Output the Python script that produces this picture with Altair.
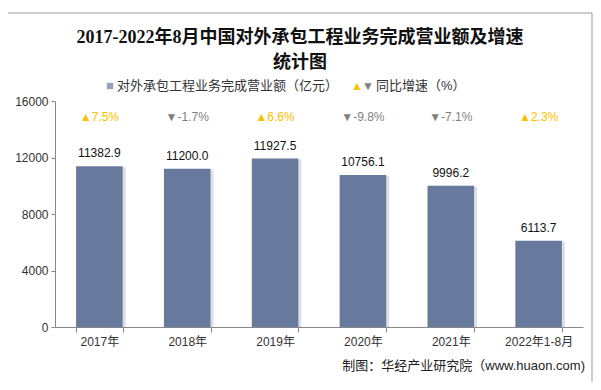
import altair as alt
import pandas as pd

years = ["2017年", "2018年", "2019年", "2020年", "2021年", "2022年1-8月"]
revenue = [11382.9, 11200.0, 11927.5, 10756.1, 9996.2, 6113.7]
growth = [7.5, -1.7, 6.6, -9.8, -7.1, 2.3]
y_ticks = [0, 4000, 8000, 12000, 16000]

UP = "#FFC000"
DOWN = "#7F7F7F"
BAR = "#677A9E"
FONT = "Liberation Sans, Noto Sans CJK SC"

df = pd.DataFrame({
    "year": years,
    "revenue": revenue,
    "vlabel": [f"{v:.1f}" for v in revenue],
    "glabel": [("▲" if g > 0 else "▼") + f"{g:.1f}%" for g in growth],
    "gcolor": [UP if g > 0 else DOWN for g in growth],
})

W, H = 528, 226
one = pd.DataFrame({"a": [0]})

xenc = alt.X("year:N", sort=years, title=None,
             scale=alt.Scale(paddingInner=0.47, paddingOuter=0.24),
             axis=alt.Axis(labelAngle=0, labelFont=FONT, labelFontSize=12,
                           labelColor="#333333", domainColor="#888888",
                           tickColor="#888888", tickBand="extent", tickSize=5,
                           labelPadding=4, zindex=1))
yenc = alt.Y("revenue:Q", title=None,
             scale=alt.Scale(domain=[0, 16000], nice=False),
             axis=alt.Axis(values=y_ticks, format="d", grid=False, labelFont=FONT,
                           labelFontSize=12, labelColor="#333333",
                           domainColor="#888888", tickColor="#888888",
                           tickSize=4, labelPadding=3, zindex=1))

base = alt.Chart(df)
shadow = base.mark_bar(color="#bfbfbf", opacity=0.5, xOffset=3, yOffset=1).encode(x=xenc, y=yenc)
bars = base.mark_bar(color=BAR).encode(x=xenc, y=yenc)
vlabels = base.mark_text(dy=-13, font=FONT, fontSize=12, color="#111111").encode(
    x=xenc, y=yenc, text="vlabel:N")
glabels = base.mark_text(font=FONT, fontSize=12).encode(
    x=xenc, y=alt.value(16), text="glabel:N",
    color=alt.Color("gcolor:N", scale=None))

def txt(text, x, y, size=12, color="#333333", align="left", weight="normal", font=FONT):
    return alt.Chart(one).mark_text(text=text, align=align, baseline="middle",
                                    fontSize=size, color=color, fontWeight=weight,
                                    font=font).encode(x=alt.value(x), y=alt.value(y))

ox, oy = 55, 101  # plot origin on page
border = alt.Chart(one).mark_rect(fillOpacity=0, stroke="#999999", strokeWidth=1).encode(
    x=alt.value(3 - ox), x2=alt.value(592 - ox), y=alt.value(13 - oy), y2=alt.value(383 - oy))

TFONT = "Liberation Serif, Noto Sans CJK SC"
title1 = txt("2017-2022年8月中国对外承包工程业务完成营业额及增速", 300 - ox, 38 - oy, size=18,
             color="#111111", align="center", weight="bold", font=TFONT)
title2 = txt("统计图", 300 - ox, 63 - oy, size=18, color="#111111", align="center",
             weight="bold", font=TFONT)

leg_sq = alt.Chart(one).mark_square(size=40, color=BAR).encode(
    x=alt.value(110 - ox), y=alt.value(86 - oy))
leg1 = txt("对外承包工程业务完成营业额（亿元）", 117 - ox, 86 - oy, size=13)
leg_up = txt("▲", 351 - ox, 86 - oy, size=12, color=UP)
leg_dn = txt("▼", 362 - ox, 86 - oy, size=12, color=DOWN)
leg2 = txt("同比增速（%）", 376 - ox, 86 - oy, size=13)

footer = txt("制图：华经产业研究院（www.huaon.com)", 585 - ox, 366 - oy, size=13,
             color="#222222", align="right")

chart = alt.layer(
    border, shadow, bars, vlabels, glabels, title1, title2,
    leg_sq, leg1, leg_up, leg_dn, leg2, footer
).properties(
    width=W, height=H,
    autosize=alt.AutoSizeParams(type="none"),
    padding={"left": ox - 8, "top": oy - 8, "right": 10, "bottom": 55},
    background="white",
).configure_view(stroke=None)

chart.save("out.html", embed_options={"renderer": "svg", "actions": False})
